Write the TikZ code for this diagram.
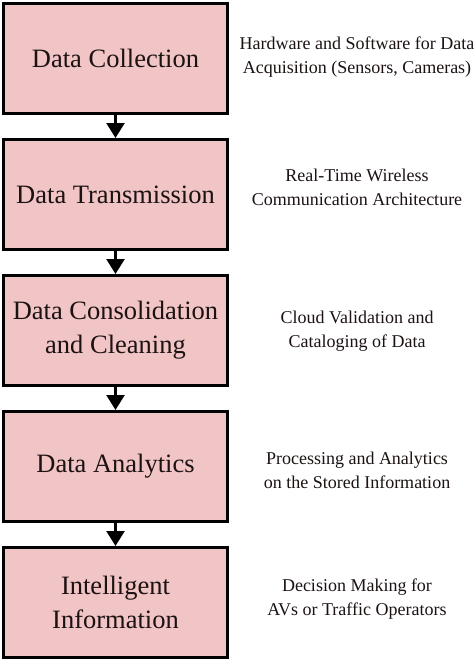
\documentclass[tikz,border=0pt]{standalone}
\usepackage{fontspec}
\setmainfont{Liberation Serif}
\usepackage{xcolor}
\definecolor{boxpink}{RGB}{241,196,198}
\definecolor{inktext}{RGB}{28,18,18}
\usepackage{tikz}
\usetikzlibrary{arrows.meta,positioning}

\begin{document}
\begin{tikzpicture}[x=1pt,y=-1pt,
    stage/.style={draw=black,line width=3pt,fill=boxpink,minimum width=224pt,
      minimum height=110pt,inner sep=0pt,align=center,text=inktext,
      font=\fontsize{26.5}{34}\selectfont},
    note/.style={align=center,inner sep=0pt,text=inktext,
      font=\fontsize{18}{24}\selectfont},
    flow/.style={line width=2.5pt,-{Triangle[width=18pt,length=15pt]}},
    node distance=23pt]
    % Frame
    \useasboundingbox (0,0) rectangle (474,665);
    % Stages
    \node[stage] (collect) at (115.5,58.5) {Data Collection};
    \node[stage,below=of collect] (transmit) {Data Transmission};
    \node[stage,below=of transmit] (clean) {Data Consolidation\\and Cleaning};
    \node[stage,below=of clean] (analytics) {Data Analytics};
    \node[stage,below=of analytics] (intel) {Intelligent\\Information};
    % Notes
    \node[note] (hardware) at (357,57) {Hardware and Software for Data\\Acquisition (Sensors, Cameras)};
    \node[note] (wireless) at (357,187) {Real-Time Wireless\\Communication Architecture};
    \node[note] (cloud) at (357,331) {Cloud Validation and\\Cataloging of Data};
    \node[note] (process) at (357,470) {Processing and Analytics\\on the Stored Information};
    \node[note] (decision) at (357,599) {Decision Making for\\AVs or Traffic Operators};
    % Arrows
    \foreach \a/\b in {collect/transmit,transmit/clean,clean/analytics,analytics/intel}
        \draw[flow] (\a) -- (\b);
\end{tikzpicture}
\end{document}
